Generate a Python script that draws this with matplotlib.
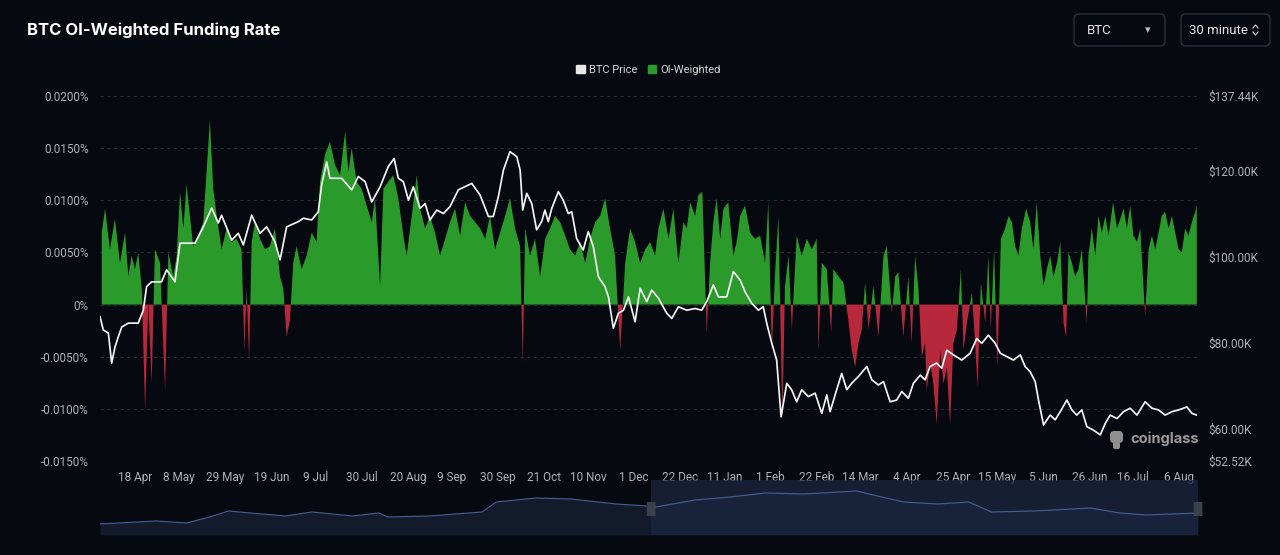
import matplotlib
matplotlib.use("Agg")
import matplotlib.pyplot as plt
import numpy as np
from matplotlib.patches import FancyBboxPatch, Patch

BG = "#070910"
GREEN = "#2a9a2a"
RED = "#b8283c"
GRID = "#262a33"
TICK = "#aeb1b8"

START = np.datetime64("2025-04-02")

# BTC price (thousand USD), x = days since START
price_day = [
    0.0, 1.5, 3.8, 5.3, 6.8, 8.3, 9.9, 12.9, 17.4, 19.7, 21.2, 23.5, 28.0, 30.3, 34.1,
    36.4, 43.2, 47.0, 50.8, 53.8, 55.3, 59.9, 62.9, 65.2, 69.0, 72.8, 75.8, 79.6, 81.9,
    84.9, 90.2, 92.5, 96.3, 99.3, 100.8, 103.1, 104.6, 109.9, 114.5, 117.5, 120.6, 123.6,
    127.4, 131.1, 133.8, 135.7, 138.0, 140.3, 142.5, 145.6, 147.9, 150.1, 153.2, 156.2,
    159.2, 163.0, 169.1, 172.9, 176.7, 178.9, 181.2, 183.5, 186.5, 189.6, 191.1, 192.3,
    194.1, 196.4, 198.6, 200.9, 202.4, 203.9, 205.5, 208.5, 210.7, 213.0, 214.6, 216.8,
    219.8, 222.1, 224.4, 226.7, 229.7, 231.3, 233.5, 235.8, 238.1, 240.4, 243.4, 245.7,
    248.7, 251.0, 254.0, 257.8, 260.1, 263.1, 266.9, 270.7, 273.7, 276.0, 279.0, 281.3,
    285.1, 288.1, 291.2, 293.4, 296.5, 299.5, 301.7, 303.3, 305.6, 307.8, 309.8, 312.4,
    314.6, 316.9, 319.2, 322.2, 325.3, 328.3, 330.6, 332.1, 335.1, 337.4, 339.7, 341.9,
    345.0, 348.8, 351.1, 354.1, 356.4, 359.4, 362.4, 364.7, 367.7, 370.0, 373.1, 375.3,
    377.6, 380.6, 382.9, 385.2, 388.2, 392.0, 395.8, 398.8, 401.1, 404.1, 407.2, 409.5,
    412.5, 415.5, 418.6, 420.8, 423.1, 425.4, 426.9, 429.2, 432.2, 434.5, 436.8, 439.8,
    442.1, 444.3, 446.6, 448.9, 451.9, 455.0, 457.3, 459.5, 462.6, 465.6, 468.6, 471.7,
    475.4, 478.5, 481.5, 484.5, 487.6, 490.6, 494.4, 496.7, 498.9,
]
price_k = [
    86.1, 83.0, 82.3, 75.3, 79.0, 81.4, 83.7, 84.6, 84.6, 87.6, 93.1, 94.2, 94.2, 97.0, 94.2,
    103.2, 103.2, 107.0, 111.4, 107.9, 109.7, 103.9, 105.5, 102.8, 109.7, 105.5, 107.0, 103.5, 99.3,
    107.0, 108.2, 109.0, 108.6, 110.5, 116.7, 122.1, 118.3, 118.3, 115.6, 118.7, 117.5, 112.8,
    116.3, 121.0, 122.9, 118.3, 117.5, 113.2, 116.3, 111.3, 112.4, 108.6, 110.9, 110.1,
    111.7, 115.6, 117.1, 114.4, 109.4, 109.4, 114.0, 120.2, 124.5, 123.3, 120.2, 110.9,
    114.8, 112.4, 106.3, 108.2, 110.9, 108.2, 111.3, 115.2, 113.2, 110.1, 110.5, 104.3,
    101.6, 105.9, 102.4, 95.4, 93.1, 90.7, 83.4, 86.9, 87.6, 90.7, 84.9, 92.7,
    89.6, 92.3, 90.4, 86.9, 85.7, 88.4, 87.6, 88.0, 87.6, 89.6, 93.5, 90.7,
    90.7, 96.6, 94.6, 91.9, 89.2, 87.6, 88.4, 84.5, 79.9, 76.0, 62.8, 70.6,
    69.1, 66.3, 69.1, 67.5, 68.3, 63.6, 67.9, 64.0, 69.1, 72.9, 69.1, 70.6,
    72.2, 74.5, 71.4, 70.2, 71.0, 66.3, 66.7, 68.7, 67.1, 70.6, 72.5, 71.4,
    74.5, 75.3, 74.1, 78.3, 77.2, 76.0, 77.6, 81.0, 79.9, 81.8, 79.9, 77.6,
    76.8, 76.0, 77.2, 74.5, 73.3, 71.0, 66.7, 60.9, 63.2, 62.1, 64.0, 66.7,
    64.4, 63.2, 64.4, 60.5, 59.7, 58.6, 61.3, 63.2, 62.4, 64.0, 64.8, 63.2,
    66.3, 64.8, 64.4, 63.2, 64.0, 64.4, 65.1, 63.6, 63.2,
]

# OI-weighted funding rate (%), x = days since START
funding_day = [
    0.8, 2.3, 4.5, 6.8, 9.1, 11.4, 12.9, 14.4, 15.9, 17.4, 19.0, 20.5, 22.0, 23.5, 25.0,
    27.3, 29.6, 31.1, 33.3, 34.9, 36.4, 37.9, 39.4, 40.9, 42.4, 44.7, 47.0, 50.0, 51.5,
    53.1, 55.3, 57.6, 59.9, 62.1, 64.4, 65.7, 66.7, 67.8, 69.0, 70.5, 72.8, 75.1, 77.3,
    79.6, 81.9, 83.4, 84.9, 86.4, 87.9, 89.4, 91.7, 94.0, 96.3, 98.5, 100.1, 102.4, 104.6,
    106.9, 109.2, 111.5, 113.0, 114.5, 116.7, 119.0, 121.3, 123.6,
    125.1, 127.4, 128.9, 131.2, 133.4, 135.7, 138.0, 139.5, 141.8, 144.1, 145.6, 147.9,
    150.1, 152.4, 154.7, 157.0, 159.2, 161.5, 163.8, 166.1, 168.3, 170.6, 172.9, 175.2,
    177.4, 179.7, 182.0, 184.3, 186.5, 188.8, 191.1, 192.3, 193.4, 195.6, 197.9, 200.2,
    202.5, 204.7, 207.0, 209.3, 211.6, 213.8, 216.1, 218.4, 220.7, 222.9, 225.2, 227.5,
    229.8, 232.0, 234.3, 236.6, 238.9, 241.1, 243.4, 245.7, 248.0, 250.2,
    252.5, 254.0, 256.3, 258.6, 260.8, 263.1, 265.4, 266.9, 268.4, 270.7, 272.2, 274.0,
    276.0, 277.5, 279.0, 280.5, 282.1, 283.6, 285.8, 288.1, 289.6, 291.2, 293.4, 295.7,
    298.0, 300.3, 302.5, 304.0, 305.6, 307.1, 308.6, 310.4, 311.6, 313.2, 314.7, 316.9,
    319.2, 321.5, 323.8, 326.0, 326.8, 328.3, 330.6, 332.6, 333.6, 335.9, 338.2, 340.4,
    342.0, 343.5, 345.0, 346.5, 348.0, 349.6, 351.8, 354.1, 356.4, 357.9, 360.2, 361.7,
    363.2, 365.4, 367.7, 369.2, 370.8, 372.3, 373.8, 375.3,
    376.1, 377.6, 379.1, 380.6, 382.2, 383.7, 385.2, 386.7, 388.2, 389.8, 391.6, 392.8,
    394.3, 396.6, 398.1, 399.2, 400.7, 402.7, 404.1, 405.2, 406.7, 408.2, 409.8, 411.7,
    413.3, 414.8, 416.3, 417.8, 419.3, 421.3, 423.1, 424.6, 426.1, 427.7, 429.2, 430.7,
    432.2, 433.7, 435.3, 436.8, 438.3, 439.5, 440.5, 442.1, 443.6, 445.1, 446.6, 448.9,
    449.6, 451.2, 452.7, 454.2, 455.7, 457.3, 458.8, 460.8, 462.6, 464.1, 465.6, 467.1,
    468.6, 470.1, 471.7, 473.2, 475.4, 477.0, 478.5, 480.0, 481.5, 483.0, 484.5, 486.1,
    487.6, 489.1, 490.6, 492.1, 493.6, 495.1, 496.7, 498.2, 498.9,
]
funding_pct = [
    0.0069, 0.0092, 0.0053, 0.0082, 0.0040, 0.0069, 0.0027, 0.0047, 0.0034, 0.0050, 0.0015, -0.0100, 0.0002, -0.0076, 0.0053,
    0.0040, -0.0082, 0.0050, 0.0027, 0.0047, 0.0108, 0.0073, 0.0115, 0.0085, 0.0056, 0.0066, 0.0079, 0.0177, 0.0111,
    0.0085, 0.0053, 0.0073, 0.0060, 0.0063, 0.0053, -0.0044, 0.0015, -0.0053, 0.0060, 0.0079, 0.0063, 0.0053, 0.0056,
    0.0073, 0.0027, 0.0015, -0.0031, -0.0015, 0.0040, 0.0056, 0.0034, 0.0047, 0.0069, 0.0060, 0.0118, 0.0144, 0.0156,
    0.0134, 0.0124, 0.0166, 0.0127, 0.0150, 0.0118, 0.0111, 0.0095, 0.0079,
    0.0102, 0.0018, 0.0111, 0.0118, 0.0124, 0.0102, 0.0066, 0.0047, 0.0085, 0.0124, 0.0092, 0.0073,
    0.0085, 0.0069, 0.0047, 0.0063, 0.0079, 0.0092, 0.0066, 0.0098, 0.0085, 0.0079, 0.0073, 0.0063,
    0.0085, 0.0053, 0.0069, 0.0085, 0.0102, 0.0073, 0.0056, -0.0056, 0.0073, 0.0047, 0.0063, 0.0027,
    0.0063, 0.0073, 0.0085, 0.0079, 0.0066, 0.0053, 0.0047, 0.0060, 0.0040, 0.0063, 0.0079, 0.0085,
    0.0102, 0.0073, 0.0047, -0.0044, 0.0040, 0.0073, 0.0060, 0.0040, 0.0053, 0.0060,
    0.0047, 0.0073, 0.0092, 0.0063, 0.0092, 0.0040, 0.0079, 0.0073, 0.0098, 0.0085, 0.0105, 0.0108,
    -0.0027, 0.0040, 0.0079, 0.0102, 0.0063, 0.0092, 0.0098, 0.0047, 0.0060, 0.0085, 0.0095, 0.0069,
    0.0063, 0.0066, 0.0040, 0.0098, -0.0044, 0.0031, 0.0085, -0.0111, 0.0018, 0.0047, -0.0024, 0.0066,
    0.0047, 0.0063, 0.0053, 0.0063, -0.0044, 0.0040, 0.0034, -0.0027, 0.0034, 0.0027, 0.0021, -0.0015,
    -0.0044, -0.0060, -0.0037, -0.0024, 0.0021, -0.0024, 0.0018, -0.0031, 0.0047, 0.0056, -0.0008, 0.0027,
    0.0031, -0.0031, 0.0027, -0.0037, 0.0047, 0.0015, -0.0050, -0.0037,
    -0.0082, -0.0056, -0.0076, -0.0115, -0.0044, -0.0076, -0.0060, -0.0115, -0.0037, -0.0024, 0.0034, -0.0044,
    -0.0018, 0.0011, -0.0037, -0.0079, 0.0021, -0.0018, 0.0047, -0.0024, 0.0053, -0.0060, 0.0063, 0.0073,
    0.0085, 0.0079, 0.0056, 0.0047, 0.0073, 0.0092, 0.0079, 0.0053, 0.0098, 0.0047, 0.0018, 0.0034,
    0.0047, 0.0027, 0.0040, 0.0060, -0.0018, -0.0031, 0.0050, 0.0040, 0.0027, 0.0034, 0.0053, -0.0018,
    0.0047, 0.0073, 0.0047, 0.0085, 0.0069, 0.0085, 0.0066, 0.0098, 0.0073, 0.0082, 0.0092, 0.0073,
    0.0095, 0.0066, 0.0060, 0.0073, -0.0011, 0.0053, 0.0066, 0.0053, 0.0069, 0.0085, 0.0089, 0.0073,
    0.0085, 0.0069, 0.0053, 0.0050, 0.0073, 0.0066, 0.0079, 0.0089, 0.0095,
]

# navigator (overview) series: position along the strip and line level
nav_pos = [0.000, 0.051, 0.079, 0.100, 0.117, 0.137, 0.169, 0.193, 0.230, 0.254, 0.262,
           0.300, 0.348, 0.361, 0.397, 0.429, 0.470, 0.498, 0.506, 0.542, 0.574, 0.606,
           0.641, 0.689, 0.704, 0.732, 0.763, 0.791, 0.812, 0.851, 0.902, 0.929, 0.953, 1.000]
nav_level = [11, 14, 12, 18, 24, 22, 19, 23, 19, 22, 18, 19, 23, 33, 37, 36, 31, 29, 28,
             35, 38, 42, 41, 44, 40, 33, 31, 33, 23, 24, 27, 22, 20, 22]
nav_selection = (0.502, 1.0)

date_ticks = ["2025-04-18", "2025-05-08", "2025-05-29", "2025-06-19", "2025-07-09",
              "2025-07-30", "2025-08-20", "2025-09-09", "2025-09-30", "2025-10-21",
              "2025-11-10", "2025-12-01", "2025-12-22", "2026-01-11", "2026-02-01",
              "2026-02-22", "2026-03-14", "2026-04-04", "2026-04-25", "2026-05-15",
              "2026-06-05", "2026-06-26", "2026-07-16", "2026-08-06"]
date_labels = ["18 Apr", "8 May", "29 May", "19 Jun", "9 Jul", "30 Jul", "20 Aug", "9 Sep",
               "30 Sep", "21 Oct", "10 Nov", "1 Dec", "22 Dec", "11 Jan", "1 Feb", "22 Feb",
               "14 Mar", "4 Apr", "25 Apr", "15 May", "5 Jun", "26 Jun", "16 Jul", "6 Aug"]
rate_ticks = [-0.015, -0.010, -0.005, 0.0, 0.005, 0.010, 0.015, 0.020]
rate_labels = ["-0.0150%", "-0.0100%", "-0.0050%", "0%", "0.0050%", "0.0100%", "0.0150%", "0.0200%"]
price_ticks = [52.52, 60, 80, 100, 120, 137.44]
price_labels = ["$52.52K", "$60.00K", "$80.00K", "$100.00K", "$120.00K", "$137.44K"]

plt.rcParams["font.family"] = ["Roboto", "DejaVu Sans"]

fig = plt.figure(figsize=(12.8, 5.55), dpi=100, facecolor=BG)

# main chart
ax = fig.add_axes([100 / 1280, 94 / 555, 1097 / 1280, 365 / 555])
ax.set_facecolor(BG)
for s in ax.spines.values():
    s.set_visible(False)

x = np.array(funding_day)
y = np.array(funding_pct)
ax.fill_between(x, 0, y, where=y >= 0, interpolate=True, color=GREEN, lw=0, zorder=2)
ax.fill_between(x, 0, y, where=y <= 0, interpolate=True, color=RED, lw=0, zorder=2)

ax.set_xlim(0, 499)
ax.set_ylim(-0.015, 0.020)
ax.set_yticks(rate_ticks)
ax.set_yticklabels(rate_labels)
tick_days = [(np.datetime64(d) - START).astype(int) for d in date_ticks]
ax.set_xticks(tick_days)
ax.set_xticklabels(date_labels)
ax.tick_params(axis="both", length=0, colors=TICK, labelsize=8.5)
ax.tick_params(axis="y", pad=8)
ax.tick_params(axis="x", pad=7)
ax.yaxis.grid(True, color=GRID, linestyle=(0, (3, 3)), lw=0.8, zorder=0)
ax.set_axisbelow(True)

ax2 = ax.twinx()
for s in ax2.spines.values():
    s.set_visible(False)
ax2.plot(price_day, price_k, color="#f2f2f2", lw=1.25, zorder=3)
ax2.set_ylim(52.52, 137.44)
ax2.set_yticks(price_ticks)
ax2.set_yticklabels(price_labels)
ax2.tick_params(axis="y", length=0, colors=TICK, labelsize=8.5, pad=8)

ax.legend(handles=[Patch(color="#e8e8e8", label="BTC Price"),
                   Patch(color=GREEN, label="OI-Weighted")],
          loc="center", bbox_to_anchor=(0.5, 1 + 26 / 365), ncol=2, frameon=False,
          handlelength=0.75, handleheight=0.75, handletextpad=0.35, columnspacing=1.0,
          fontsize=8, labelcolor="#d8d8d8")

# navigator strip
nav = fig.add_axes([100 / 1280, 20 / 555, 1098 / 1280, 55 / 555])
nav.set_facecolor(BG)
nav.axis("off")
nav.set_xlim(0, 1)
nav.set_ylim(0, 55)
nav.fill_between(nav_pos, 0, nav_level, color="#121a2c", lw=0)
nav.axvspan(nav_selection[0], nav_selection[1], color="#1b2640", alpha=0.75, lw=0)
nav.plot(nav_pos, nav_level, color="#45598a", lw=0.9)
for hx in nav_selection:
    nav.add_patch(FancyBboxPatch((hx - 0.004, 19), 0.008, 14,
                                 boxstyle="round,pad=0,rounding_size=0.003",
                                 fc="#3b404b", ec="none", clip_on=False, zorder=5))

# page decorations (pixel coordinates)
ui = fig.add_axes([0, 0, 1, 1], facecolor="none")
ui.set_xlim(0, 1280)
ui.set_ylim(555, 0)
ui.axis("off")
ui.text(27, 30, "BTC OI-Weighted Funding Rate", color="white", fontsize=12,
        fontweight="bold", va="center", ha="left", family=["Inter", "DejaVu Sans"])
for bx, bw in [(1074, 91), (1181, 89)]:
    ui.add_patch(FancyBboxPatch((bx, 14), bw, 32, boxstyle="round,pad=0,rounding_size=5",
                                fc=BG, ec="#2b2f38", lw=1))
ui.text(1087, 30, "BTC", color="#e6e6e6", fontsize=9.5, va="center")
ui.text(1148, 30, "\u25be", color="#bdbdbd", fontsize=8, va="center", ha="center")
ui.text(1189, 30, "30 minute", color="#e6e6e6", fontsize=9.5, va="center")
ui.plot([1253, 1255.5, 1258], [28, 25, 28], color="#bdbdbd", lw=0.9)
ui.plot([1253, 1255.5, 1258], [32, 35, 32], color="#bdbdbd", lw=0.9)
ui.text(1130, 439, "coinglass", color="#9b9b9b", fontsize=10.5, fontweight="bold",
        va="center", ha="left", family=["Inter", "DejaVu Sans"])
ui.add_patch(FancyBboxPatch((1110, 431), 13, 12, boxstyle="round,pad=0,rounding_size=4",
                            fc="#8f8f8f", ec="none"))
ui.add_patch(FancyBboxPatch((1113, 442), 7, 7, boxstyle="round,pad=0,rounding_size=2",
                            fc="#8f8f8f", ec="none"))

fig.savefig("out.png", dpi=100, facecolor=BG)
